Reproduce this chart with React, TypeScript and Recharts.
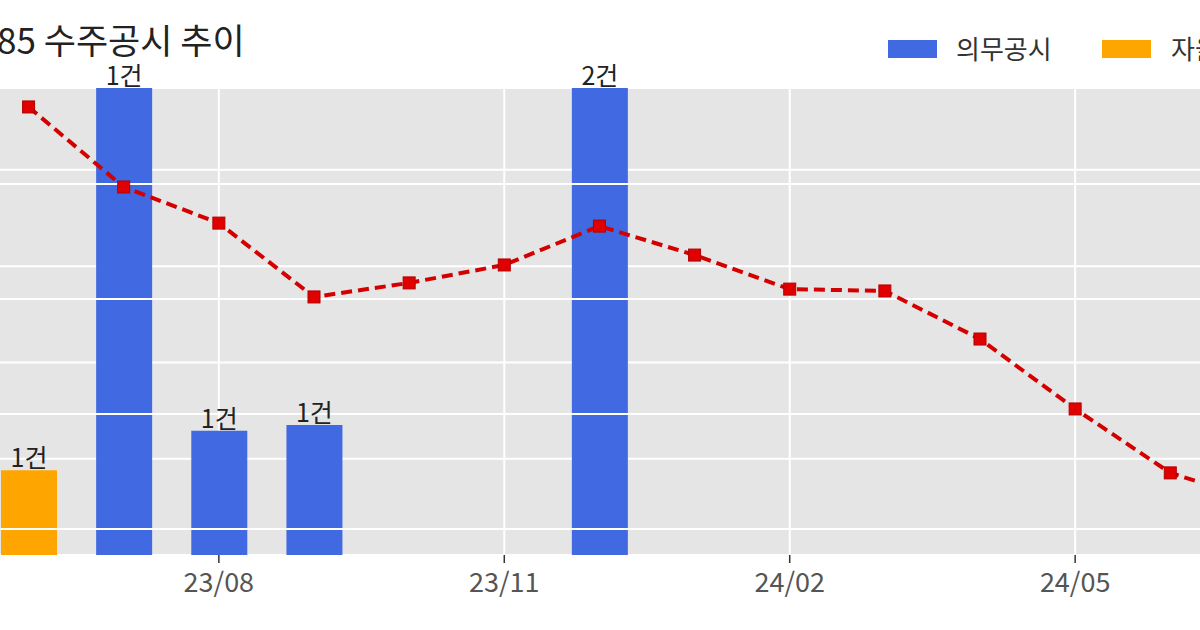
import {
  Bar,
  CartesianGrid,
  ComposedChart,
  LabelList,
  Line,
  ReferenceLine,
  XAxis,
  YAxis
} from "recharts";

const months = [
  "23/06", "23/07", "23/08", "23/09", "23/10", "23/11", "23/12",
  "24/01", "24/02", "24/03", "24/04", "24/05", "24/06", "24/07"
];
const labelMonths = ["23/08", "23/11", "24/02", "24/05"];

// bar heights (amount, hidden axis) and disclosure counts
const dutyAmount = [null, 485, 129, 135, null, null, 485, null, null, null, null, null, null, null];
const dutyCount = [null, 1, 1, 1, null, null, 2, null, null, null, null, null, null, null];
const volAmount = [88, null, null, null, null, null, null, null, null, null, null, null, null, null];
const volCount = [1, null, null, null, null, null, null, null, null, null, null, null, null, null];

// price line (hidden right axis)
const price = [38350, 34870, 33300, 30090, 30700, 31480, 33170, 31910, 30430, 30350, 28260, 25220, 22440, 21130];

const amountTicks = [0, 100, 200, 300, 400];
const priceTicks = [20000, 25000, 30000, 35000];

const data = months.map((m, i) => ({
  idx: i,
  month: m,
  duty: dutyAmount[i],
  dutyCnt: dutyCount[i],
  vol: volAmount[i],
  volCnt: volCount[i],
  price: price[i]
}));

const FONT = "'Noto Sans CJK KR', 'Noto Sans', sans-serif";
const BLUE = "#4169e1";
const ORANGE = "#ffa500";
const RED = "#d40000";

const cntLabel = (v: any) => (v ? `${v}건` : "");

const SquareDot = (props: any) => {
  const { cx, cy, index } = props;
  if (cx == null || cy == null) return <g key={index} />;
  return (
    <rect key={index} x={cx - 6} y={cy - 6} width={12} height={12} fill="#e00000" stroke="#b00000" strokeWidth={1} />
  );
};

export default function App() {
  return (
    <div
      style={{
        position: "fixed",
        left: 0,
        top: 0,
        width: 1200,
        height: 630,
        overflow: "hidden",
        background: "#fff",
        fontFamily: FONT
      }}
    >
      <div style={{ position: "absolute", left: -100, top: 0 }}>
        <ComposedChart
          width={1423}
          height={630}
          data={data}
          margin={{ top: 88, right: 10, bottom: 30, left: 81 }}
        >
          <CartesianGrid
            yAxisId="amt"
            fill="#e5e5e5"
            stroke="#ffffff"
            strokeWidth={2}
          />
          <XAxis
            dataKey="idx"
            type="number"
            domain={[-0.5, months.length - 0.5]}
            ticks={labelMonths.map((m) => months.indexOf(m))}
            interval={0}
            tickFormatter={(v) => months[v]}
            axisLine={false}
            tickLine={{ stroke: "#333", strokeWidth: 1.5 }}
            tickSize={8}
            tickMargin={10}
            height={45}
            tick={{ fill: "#555", fontSize: 27, fontFamily: FONT }}
          />
          <YAxis yAxisId="amt" hide domain={[0, 485]} ticks={amountTicks} allowDataOverflow />
          <YAxis yAxisId="price" hide orientation="right" domain={[18870, 39174]} ticks={priceTicks} />
          <Bar yAxisId="amt" dataKey="vol" stackId="a" fill={ORANGE} barSize={56} isAnimationActive={false}>
            <LabelList dataKey="volCnt" position="top" offset={3} formatter={cntLabel} fill="#222" fontSize={25} fontFamily={FONT} />
          </Bar>
          <Bar yAxisId="amt" dataKey="duty" stackId="a" fill={BLUE} barSize={56} isAnimationActive={false}>
            <LabelList dataKey="dutyCnt" position="top" offset={3} formatter={cntLabel} fill="#222" fontSize={25} fontFamily={FONT} />
          </Bar>
          {priceTicks.map((t) => (
            <ReferenceLine key={t} yAxisId="price" y={t} stroke="#ffffff" strokeWidth={2} />
          ))}
          <Line
            yAxisId="price"
            dataKey="price"
            stroke={RED}
            strokeWidth={4}
            strokeDasharray="11 6"
            dot={SquareDot}
            activeDot={false}
            isAnimationActive={false}
          />
        </ComposedChart>
      </div>

      <div
        style={{
          position: "absolute",
          left: -3,
          top: 19,
          fontSize: 35,
          lineHeight: "40px",
          color: "#222",
          whiteSpace: "nowrap"
        }}
      >
        85 수주공시 추이
      </div>

      <div style={{ position: "absolute", left: 888, top: 40, width: 49, height: 18, background: BLUE }} />
      <div style={{ position: "absolute", left: 956, top: 32, fontSize: 26, lineHeight: "32px", color: "#333", whiteSpace: "nowrap" }}>
        의무공시
      </div>
      <div style={{ position: "absolute", left: 1102, top: 40, width: 49, height: 18, background: ORANGE }} />
      <div style={{ position: "absolute", left: 1171, top: 32, fontSize: 26, lineHeight: "32px", color: "#333", whiteSpace: "nowrap" }}>
        자율공시
      </div>
    </div>
  );
}
